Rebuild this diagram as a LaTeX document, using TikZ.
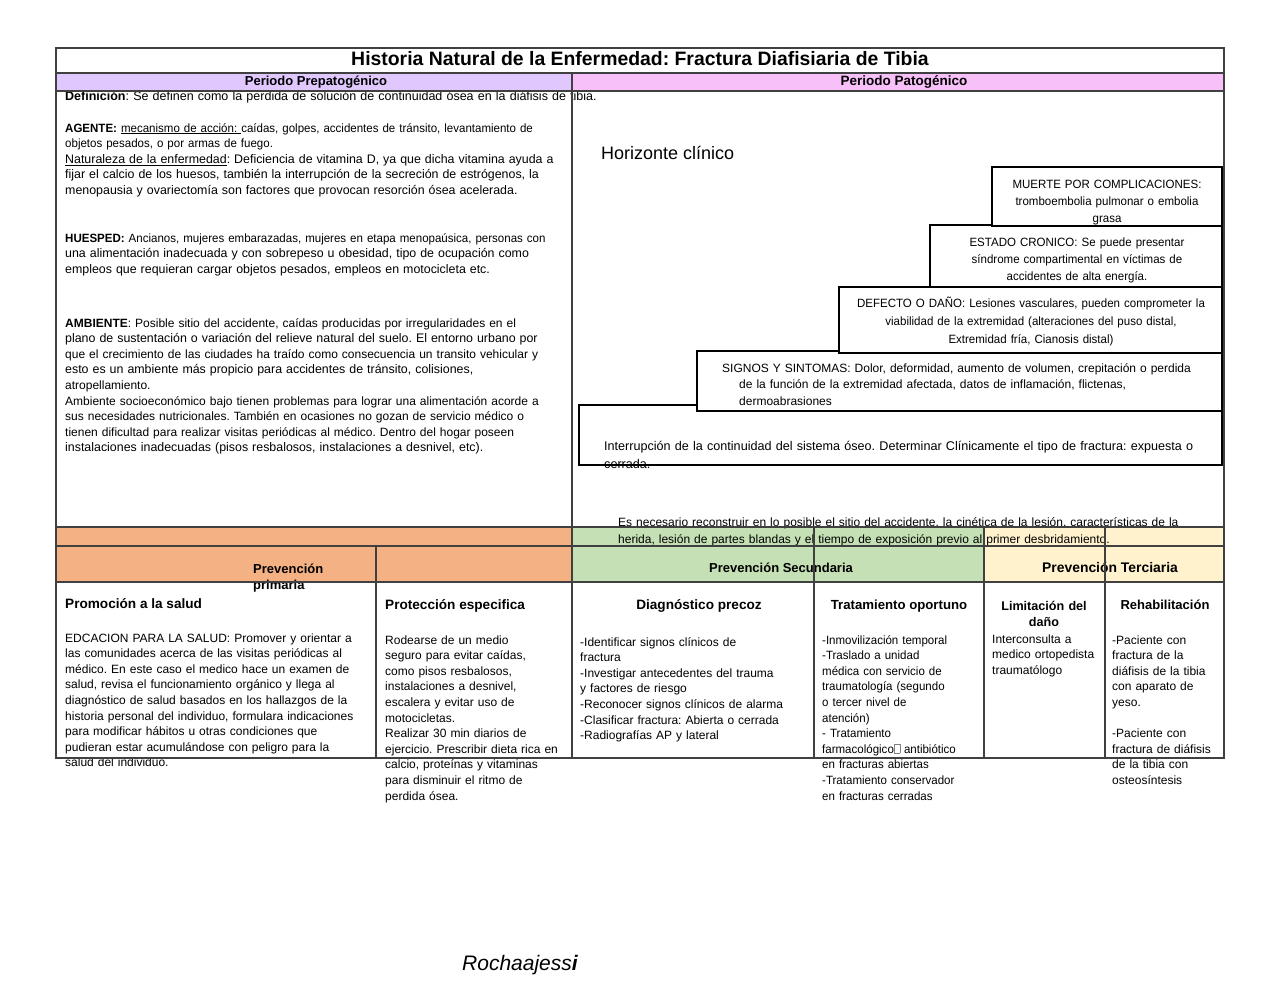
\documentclass[tikz,border=0pt]{standalone}
\usepackage{fontspec}
\setmainfont{Liberation Sans}
\newfontfamily\narrowfont[FakeStretch=0.96]{Liberation Sans}
\usetikzlibrary{positioning}

\definecolor{prepat}{HTML}{E0C8FF}
\definecolor{patog}{HTML}{F8C0F8}
\definecolor{primcol}{HTML}{F4B183}
\definecolor{seccol}{HTML}{C5E0B4}
\definecolor{tercol}{HTML}{FFF2CC}
\definecolor{gridcol}{HTML}{404040}

\newcommand\bodyfont{\fontsize{12}{15.6}\selectfont}
\newcommand\widefont{\normalfont\fontsize{12.4}{15.6}\selectfont}
\newcommand\headfont{\bfseries\fontsize{13.6}{16.8}\selectfont}
\newcommand\nochar{\kern0.5pt{\color{gray}\fboxsep=0pt\fboxrule=0.4pt\fbox{\rule{0pt}{0.72em}\hspace{0.4em}}}}

\tikzset{
    gridline/.style={draw=gridcol, line width=1.1pt},
    stepbox/.style={draw=black, line width=2pt, fill=white},
    txt/.style={anchor=base west, inner sep=0pt, text width=#1, align=left, font=\bodyfont},
    ctxt/.style={anchor=base, inner sep=0pt, text width=#1, align=center, font=\bodyfont},
    head/.style={anchor=base, inner sep=0pt, font=\headfont},
}

\begin{document}
\frenchspacing
\begin{tikzpicture}[x=1pt, y=-1pt]
    \useasboundingbox[fill=white] (0,0) rectangle (1280,989);

    % colour fills
    \fill[prepat] (56,73) rectangle (572,91);
    \fill[patog] (572,73) rectangle (1224,91);
    \fill[primcol] (56,527) rectangle (572,582);
    \fill[seccol] (572,527) rectangle (984,582);
    \fill[tercol] (984,527) rectangle (1224,582);

    % title and periods
    \node[head, font=\bfseries\fontsize{19.4}{22}\selectfont] (titulo) at (640,65)
        {Historia Natural de la Enfermedad: Fractura Diafisiaria de Tibia};
    \node[head, font=\bfseries\fontsize{13}{15}\selectfont] (prepato) at (316,85) {Periodo Prepatogénico};
    \node[head, font=\bfseries\fontsize{13.5}{15}\selectfont] (pato) at (904,85) {Periodo Patogénico};

    % periodo prepatogenico
    \node[txt=620pt, font=\fontsize{12.5}{15.6}\selectfont] (defin) at (65,100)
        {\textbf{Definición}: Se definen como la perdida de solución de continuidad ósea en la diáfisis de tibia.};
    \node[txt=600pt, font=\narrowfont\bodyfont] (agente) at (65,132)
        {\textbf{AGENTE:} \underline{mecanismo de acción:\ }caídas, golpes, accidentes de tránsito, levantamiento de\\
        objetos pesados, o por armas de fuego.\\
        \widefont\underline{Naturaleza de la enfermedad}: Deficiencia de vitamina D, ya que dicha vitamina ayuda a\\
        fijar el calcio de los huesos, también la interrupción de la secreción de estrógenos, la\\
        menopausia y ovariectomía son factores que provocan resorción ósea acelerada.};
    \node[txt=600pt, font=\narrowfont\bodyfont] (huesped) at (65,242)
        {\textbf{HUESPED:} Ancianos, mujeres embarazadas, mujeres en etapa menopaúsica, personas con\\
        \widefont una alimentación inadecuada y con sobrepeso u obesidad, tipo de ocupación como\\
        empleos que requieran cargar objetos pesados, empleos en motocicleta etc.};
    \node[txt=600pt] (ambiente) at (65,327)
        {\textbf{AMBIENTE}: Posible sitio del accidente, caídas producidas por irregularidades en el\\
        {\widefont plano de sustentación o variación del relieve natural del suelo. El entorno urbano por}\\
        que el crecimiento de las ciudades ha traído como consecuencia un transito vehicular y\\
        {\widefont esto es un ambiente más propicio para accidentes de tránsito, colisiones,}\\
        atropellamiento.\\
        Ambiente socioeconómico bajo tienen problemas para lograr una alimentación acorde a\\
        sus necesidades nutricionales. También en ocasiones no gozan de servicio médico o\\
        tienen dificultad para realizar visitas periódicas al médico. Dentro del hogar poseen\\
        {\widefont instalaciones inadecuadas (pisos resbalosos, instalaciones a desnivel, etc).}};

    % periodo patogenico: horizonte clinico
    \node[anchor=base west, inner sep=0pt, font=\fontsize{18}{20}\selectfont] (horizonte) at (601,159) {Horizonte clínico};

    \draw[stepbox] (579,405) rectangle (1222,465);
    \node[txt=640pt, font=\fontsize{12.6}{18}\selectfont] (interrup) at (604,450)
        {Interrupción de la continuidad del sistema óseo. Determinar Clínicamente el tipo de fractura: expuesta o\\
        cerrada.};

    \draw[stepbox] (697,351) rectangle (1222,411);
    \node[txt=520pt, font=\fontsize{12}{16.5}\selectfont] (signos) at (722,372)
        {SIGNOS Y SINTOMAS: Dolor, deformidad, aumento de volumen, crepitación o perdida\\
        \hspace*{17pt}de la función de la extremidad afectada, datos de inflamación, flictenas,\\
        \hspace*{17pt}dermoabrasiones};

    \draw[stepbox] (839,287) rectangle (1222,353);
    \node[ctxt=380pt, font=\narrowfont\fontsize{12}{18}\selectfont] (defecto) at (1031,307)
        {DEFECTO O DAÑO: Lesiones vasculares, pueden comprometer la\\
        viabilidad de la extremidad (alteraciones del puso distal,\\
        Extremidad fría, Cianosis distal)};

    \draw[stepbox] (930,225) rectangle (1222,287);
    \node[ctxt=290pt, font=\narrowfont\fontsize{12}{17}\selectfont] (cronico) at (1077,246)
        {ESTADO CRONICO: Se puede presentar\\
        síndrome compartimental en víctimas de\\
        accidentes de alta energía.};

    \draw[stepbox] (992,167) rectangle (1222,226);
    \node[ctxt=228pt, font=\narrowfont\fontsize{12}{17}\selectfont] (muerte) at (1107,188)
        {MUERTE POR COMPLICACIONES:\\
        tromboembolia pulmonar o embolia\\
        grasa};

    \node[txt=600pt, font=\fontsize{12}{17}\selectfont] (reconst) at (618,526)
        {Es necesario reconstruir en lo posible el sitio del accidente, la cinética de la lesión, características de la\\
        herida, lesión de partes blandas y el tiempo de exposición previo al primer desbridamiento.};

    % niveles de prevencion
    \node[txt=100pt, font=\bfseries\fontsize{13}{16}\selectfont] (prevprim) at (253,573) {Prevención\\primaria};
    \node[head, font=\bfseries\fontsize{13}{16}\selectfont] (prevsec) at (781,572) {Prevención Secundaria};
    \node[head, font=\bfseries\fontsize{13.9}{16}\selectfont] (prevter) at (1110,572) {Prevención Terciaria};

    \node[anchor=base west, inner sep=0pt, font=\headfont] (promo) at (65,608) {Promoción a la salud};
    \node[anchor=base west, inner sep=0pt, font=\headfont] (protec) at (385,609) {Protección especifica};
    \node[head] (diagn) at (699,609) {Diagnóstico precoz};
    \node[head, font=\bfseries\fontsize{13.2}{16}\selectfont] (tratam) at (899,609) {Tratamiento oportuno};
    \node[ctxt=120pt, font=\bfseries\fontsize{12.6}{16.8}\selectfont] (limita) at (1044,610) {Limitación del\\daño};
    \node[head, font=\bfseries\fontsize{13}{16}\selectfont] (rehab) at (1165,609) {Rehabilitación};

    \node[txt=320pt] (promotxt) at (65,642)
        {EDCACION PARA LA SALUD: Promover y orientar a\\
        las comunidades acerca de las visitas periódicas al\\
        médico. En este caso el medico hace un examen de\\
        salud, revisa el funcionamiento orgánico y llega al\\
        diagnóstico de salud basados en los hallazgos de la\\
        historia personal del individuo, formulara indicaciones\\
        para modificar hábitos u otras condiciones que\\
        pudieran estar acumulándose con peligro para la\\
        salud del individuo.};
    \node[txt=190pt] (protectxt) at (385,644)
        {Rodearse de un medio\\
        seguro para evitar caídas,\\
        como pisos resbalosos,\\
        instalaciones a desnivel,\\
        escalera y evitar uso de\\
        motocicletas.\\
        Realizar 30 min diarios de\\
        ejercicio. Prescribir dieta rica en\\
        calcio, proteínas y vitaminas\\
        para disminuir el ritmo de\\
        perdida ósea.};
    \node[txt=230pt] (diagntxt) at (580,646)
        {-Identificar signos clínicos de\\
        fractura\\
        -Investigar antecedentes del trauma\\
        y factores de riesgo\\
        -Reconocer signos clínicos de alarma\\
        -Clasificar fractura: Abierta o cerrada\\
        -Radiografías AP y lateral};
    \node[txt=160pt, font=\narrowfont\bodyfont] (tratamtxt) at (822,644)
        {-Inmovilización temporal\\
        -Traslado a unidad\\
        médica con servicio de\\
        traumatología (segundo\\
        o tercer nivel de\\
        atención)\\
        - Tratamiento\\
        farmacológico\nochar{} antibiótico\\
        en fracturas abiertas\\
        -Tratamiento conservador\\
        en fracturas cerradas};
    \node[txt=115pt] (limitatxt) at (992,643)
        {Interconsulta a\\
        medico ortopedista\\
        traumatólogo};
    \node[txt=115pt] (rehabtxt) at (1112,644)
        {-Paciente con\\
        fractura de la\\
        diáfisis de la tibia\\
        con aparato de\\
        yeso.\\[15.6pt]
        -Paciente con\\
        fractura de diáfisis\\
        de la tibia con\\
        osteosíntesis};

    % table lines
    \draw[gridline] (56,48) rectangle (1224,758);
    \draw[gridline] (56,73) -- (1224,73);
    \draw[gridline] (56,91) -- (1224,91);
    \draw[gridline] (56,527) -- (1224,527);
    \draw[gridline] (56,546) -- (1224,546);
    \draw[gridline] (56,582) -- (1224,582);
    \draw[gridline] (572,73) -- (572,758);
    \draw[gridline] (376,546) -- (376,758);
    \draw[gridline] (814,527) -- (814,758);
    \draw[gridline] (984,527) -- (984,758);
    \draw[gridline] (1105,527) -- (1105,758);

    % firma
    \node[anchor=base west, inner sep=0pt, font=\itshape\fontsize{21}{22}\selectfont] (firma) at (462,970) {Rochaajess\textbf{i}};
\end{tikzpicture}
\end{document}
